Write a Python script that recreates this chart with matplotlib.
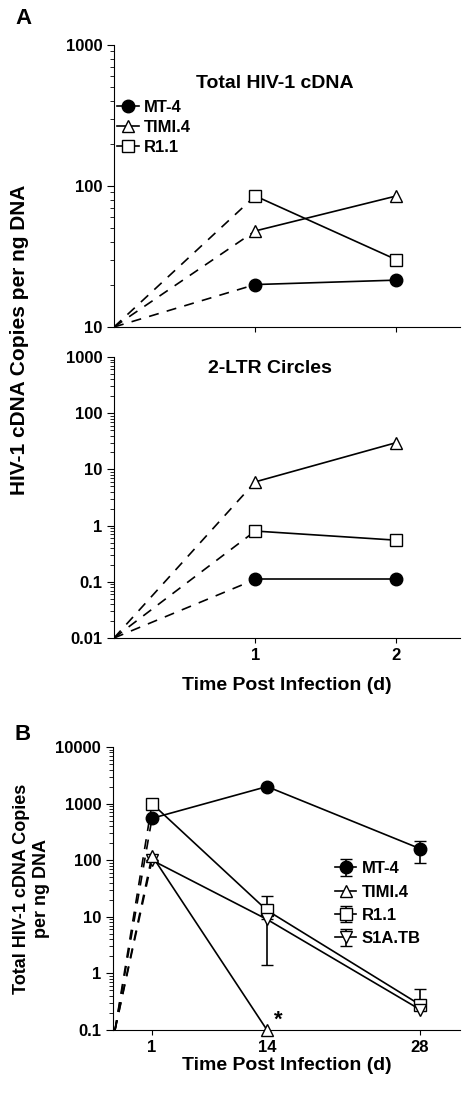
import numpy as np
import matplotlib.pyplot as plt
from matplotlib.ticker import LogLocator, NullFormatter

plt.rcParams['font.family'] = ['Liberation Sans', 'DejaVu Sans']
plt.rcParams['font.weight'] = 'bold'

# panel A data (days 1, 2)
days_a = [1, 2]
total_mt4 = [20, 21.5]
total_timi = [48, 85]
total_r11 = [85, 30]
ltr_mt4 = [0.11, 0.11]
ltr_timi = [6, 30]
ltr_r11 = [0.8, 0.55]

# panel B data (days 1, 14, 28)
days_b = [1, 14, 28]
b_mt4 = [550, 2000, 160]
b_mt4_lo = [550, 2000, 90]
b_mt4_hi = [550, 2000, 220]
b_timi = [120, 0.1]
b_r11 = [1000, 13, 0.28]
b_r11_lo = [1000, 13, 0.28]
b_r11_hi = [1000, 23, 0.52]
b_s1a = [100, 9, 0.23]
b_s1a_lo = [100, 1.4, 0.23]
b_s1a_hi = [100, 9, 0.23]

ms = 9
styles = {
    'MT-4': dict(marker='o', mfc='black', mec='black'),
    'TIMI.4': dict(marker='^', mfc='white', mec='black'),
    'R1.1': dict(marker='s', mfc='white', mec='black'),
    'S1A.TB': dict(marker='v', mfc='white', mec='black'),
}

fig = plt.figure(figsize=(4.74, 11.03), dpi=100)
W, H = 474, 1103

def add_ax(x0, y0, x1, y1):
    return fig.add_axes([x0 / W, 1 - y1 / H, (x1 - x0) / W, (y1 - y0) / H])

def style(ax, ymin, ymax):
    ax.set_yscale('log')
    ax.set_ylim(ymin, ymax)
    ax.spines['top'].set_visible(False)
    ax.spines['right'].set_visible(False)
    ax.yaxis.set_minor_locator(LogLocator(base=10, subs=np.arange(2, 10)))
    ax.yaxis.set_minor_formatter(NullFormatter())
    ax.tick_params(axis='y', which='major', length=5, labelsize=12)
    ax.tick_params(axis='y', which='minor', length=3)

def series(ax, xs, ys, name, y0, x0=0, label=None):
    ax.plot([x0, xs[0]], [y0, ys[0]], color='black', lw=1.2, ls=(0, (6, 5)))
    ax.plot(xs, ys, color='black', lw=1.2, ms=ms, label=label, **styles[name])

# Panel A top
ax1 = add_ax(114, 45, 460, 327)
style(ax1, 10, 1000)
ax1.set_xlim(0, 2.45)
ax1.set_xticks(days_a)
ax1.set_xticklabels([])
ax1.set_yticks([10, 100, 1000])
ax1.set_yticklabels(['10', '100', '1000'], fontweight='bold')
series(ax1, days_a, total_mt4, 'MT-4', 10, label='MT-4')
series(ax1, days_a, total_timi, 'TIMI.4', 10, label='TIMI.4')
series(ax1, days_a, total_r11, 'R1.1', 10, label='R1.1')
ax1.text(0.465, 0.865, 'Total HIV-1 cDNA', transform=ax1.transAxes, ha='center', va='center',
         fontsize=14, fontweight='bold')
ax1.legend(loc='upper left', bbox_to_anchor=(-0.01, 0.83), frameon=False, fontsize=12,
           handlelength=1.3, handletextpad=0.3, labelspacing=0.3, borderaxespad=0)

# Panel A bottom
ax2 = add_ax(114, 357, 460, 638)
style(ax2, 0.01, 1000)
ax2.set_xlim(0, 2.45)
ax2.set_xticks(days_a)
ax2.set_xticklabels(['1', '2'], fontweight='bold', fontsize=12)
ax2.set_yticks([0.01, 0.1, 1, 10, 100, 1000])
ax2.set_yticklabels(['0.01', '0.1', '1', '10', '100', '1000'], fontweight='bold')
series(ax2, days_a, ltr_mt4, 'MT-4', 0.01)
series(ax2, days_a, ltr_timi, 'TIMI.4', 0.01)
series(ax2, days_a, ltr_r11, 'R1.1', 0.01)
ax2.text(0.45, 0.96, '2-LTR Circles', transform=ax2.transAxes, ha='center', va='center',
         fontsize=14, fontweight='bold')
ax2.set_xlabel('Time Post Infection (d)', fontsize=14, fontweight='bold', labelpad=10)
fig.text(20 / W, 1 - 340 / H, 'HIV-1 cDNA Copies per ng DNA', rotation=90, va='center', ha='center',
         fontsize=15, fontweight='bold')
fig.text(15 / W, 1 - 18 / H, 'A', fontsize=16, fontweight='bold', va='center')

# Panel B: non-linear day axis as in original
day_anchor = [0, 1, 14, 28]
pos_anchor = [0, 0.39, 1.54, 3.07]
def pos(d):
    return np.interp(d, day_anchor, pos_anchor)

ax3 = add_ax(113, 747, 460, 1030)
style(ax3, 0.1, 10000)
ax3.set_xlim(0, 3.47)
ax3.set_xticks(pos(days_b))
ax3.set_xticklabels([str(d) for d in days_b], fontweight='bold', fontsize=12)
ax3.set_yticks([0.1, 1, 10, 100, 1000, 10000])
ax3.set_yticklabels(['0.1', '1', '10', '100', '1000', '10000'], fontweight='bold')
for vals, lo, hi, name in [(b_mt4, b_mt4_lo, b_mt4_hi, 'MT-4'),
                           (b_r11, b_r11_lo, b_r11_hi, 'R1.1'),
                           (b_s1a, b_s1a_lo, b_s1a_hi, 'S1A.TB')]:
    xs = pos(days_b)
    v = np.array(vals)
    ax3.plot([0.02, xs[0]], [0.1, vals[0]], color='black', lw=1.2, ls=(0, (6, 5)))
    ax3.errorbar(xs, v, yerr=[v - np.array(lo), np.array(hi) - v], color='black', lw=1.2, ms=ms,
                 capsize=4, label=name, **styles[name])
xs_t = pos(days_b[:2])
ax3.plot([0.02, xs_t[0]], [0.1, b_timi[0]], color='black', lw=1.2, ls=(0, (6, 5)))
ax3.plot(xs_t, b_timi, color='black', lw=1.2, ms=ms, label='TIMI.4', clip_on=False, zorder=5, **styles['TIMI.4'])
ax3.text(xs_t[1] + 0.11, 0.12, '*', fontsize=16, fontweight='bold', ha='center')
h, l = ax3.get_legend_handles_labels()
order = [l.index(n) for n in ['MT-4', 'TIMI.4', 'R1.1', 'S1A.TB']]
ax3.legend([h[i] for i in order], [l[i] for i in order], loc='upper left', bbox_to_anchor=(0.62, 0.62),
           frameon=False, fontsize=12, handlelength=1.3, handletextpad=0.3, labelspacing=0.5,
           borderaxespad=0)
ax3.set_xlabel('Time Post Infection (d)', fontsize=14, fontweight='bold', labelpad=2)
ax3.set_ylabel('Total HIV-1 cDNA Copies\nper ng DNA', fontsize=13, fontweight='bold', labelpad=4)
fig.text(15 / W, 1 - 735 / H, 'B', fontsize=16, fontweight='bold', va='center')

fig.savefig('out.png', dpi=100)
